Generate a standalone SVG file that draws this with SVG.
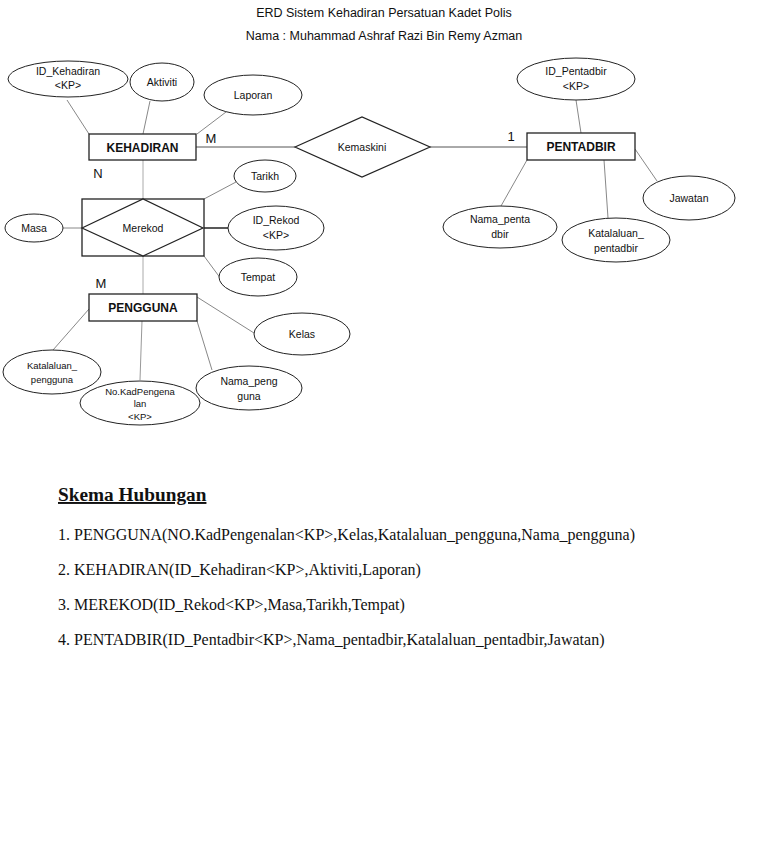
<svg xmlns="http://www.w3.org/2000/svg" width="768" height="866" viewBox="0 0 768 866">
<style>
.bg{fill:#fff}
.ent{fill:#fff;stroke:#222;stroke-width:1.3}
.att{fill:#fff;stroke:#222;stroke-width:1}
.rel{fill:#fff;stroke:#222;stroke-width:1.2}
.ln{stroke:#888;stroke-width:1;fill:none}
.t{font-family:"Liberation Sans",Arial,sans-serif;fill:#111;text-anchor:middle}
.a{font-size:10.5px}
.s{font-size:9.5px}
.e{font-size:12px;font-weight:bold}
.h{font-size:12.5px}
.c{font-size:13px}
.sc{font-family:"Liberation Serif","Times New Roman",serif;fill:#111;font-size:16px}
</style>
<rect class="bg" x="0" y="0" width="768" height="866"/>
<text class="t h" x="384" y="17">ERD Sistem Kehadiran Persatuan Kadet Polis</text>
<text class="t h" x="384" y="40">Nama : Muhammad Ashraf Razi Bin Remy Azman</text>

<g id="connectors">
<line class="ln" x1="67" y1="100" x2="89" y2="134"/>
<line class="ln" x1="150" y1="101" x2="143" y2="134"/>
<line class="ln" x1="226" y1="112" x2="197" y2="134"/>
<line class="ln" x1="196" y1="147" x2="295" y2="147" style="stroke:#555"/>
<line class="ln" x1="430" y1="147" x2="527" y2="147" style="stroke:#555"/>
<line class="ln" x1="576" y1="100" x2="581" y2="133"/>
<line class="ln" x1="527" y1="160" x2="501" y2="206"/>
<line class="ln" x1="604" y1="160" x2="608" y2="218"/>
<line class="ln" x1="635" y1="149" x2="657" y2="181"/>
<line class="ln" x1="143" y1="160" x2="143" y2="199" style="stroke:#aaa"/>
<line class="ln" x1="204" y1="199" x2="236" y2="182"/>
<line class="ln" x1="63" y1="228" x2="82" y2="228"/>
<line class="ln" x1="203" y1="228" x2="228" y2="228" style="stroke:#222;stroke-width:1.5"/>
<line class="ln" x1="204" y1="256" x2="221" y2="279"/>
<line class="ln" x1="143" y1="256" x2="143" y2="294" style="stroke:#aaa"/>
<line class="ln" x1="197" y1="297" x2="254" y2="333"/>
<line class="ln" x1="89" y1="309" x2="53" y2="350"/>
<line class="ln" x1="142" y1="321" x2="140" y2="380" style="stroke:#999"/>
<line class="ln" x1="197" y1="321" x2="212" y2="370"/>
<text class="t c" x="211" y="143">M</text>
<text class="t c" x="511" y="141">1</text>
<text class="t c" x="98" y="178">N</text>
<text class="t c" x="101" y="288">M</text>
</g>

<g id="KEHADIRAN">
<rect class="ent" x="89" y="134" width="107" height="26"/>
<text class="t e" x="142.5" y="151.5">KEHADIRAN</text>
</g>
<g id="ID_Kehadiran">
<ellipse class="att" cx="68" cy="79" rx="60" ry="18"/>
<text class="t a" x="68" y="75">ID_Kehadiran</text>
<text class="t a" x="68" y="89">&lt;KP&gt;</text>
</g>
<g id="Aktiviti">
<ellipse class="att" cx="162" cy="82" rx="32" ry="19"/>
<text class="t a" x="162" y="86">Aktiviti</text>
</g>
<g id="Laporan">
<ellipse class="att" cx="253" cy="95" rx="49" ry="20"/>
<text class="t a" x="253" y="99">Laporan</text>
</g>
<g id="Kemaskini">
<polygon class="rel" points="295,147 362,117 430,147 362,177"/>
<text class="t a" x="362" y="151">Kemaskini</text>
</g>
<g id="PENTADBIR">
<rect class="ent" x="527" y="133" width="108" height="27"/>
<text class="t e" x="581" y="151">PENTADBIR</text>
</g>
<g id="ID_Pentadbir">
<ellipse class="att" cx="576" cy="79" rx="59" ry="21"/>
<text class="t a" x="576" y="75">ID_Pentadbir</text>
<text class="t a" x="576" y="90">&lt;KP&gt;</text>
</g>
<g id="Nama_pentadbir">
<ellipse class="att" cx="500" cy="227" rx="57" ry="21"/>
<text class="t a" x="500" y="223">Nama_penta</text>
<text class="t a" x="500" y="238">dbir</text>
</g>
<g id="Katalaluan_pentadbir">
<ellipse class="att" cx="616" cy="240" rx="54" ry="22"/>
<text class="t a" x="616" y="237">Katalaluan_</text>
<text class="t a" x="616" y="252">pentadbir</text>
</g>
<g id="Jawatan">
<ellipse class="att" cx="689" cy="198" rx="46" ry="22"/>
<text class="t a" x="689" y="202">Jawatan</text>
</g>
<g id="Merekod">
<rect class="ent" x="82" y="199" width="122" height="57"/>
<polygon class="rel" points="82,228 143,199 203,228 143,256"/>
<text class="t a" x="143" y="232">Merekod</text>
</g>
<g id="Tarikh">
<ellipse class="att" cx="265" cy="176" rx="31" ry="16"/>
<text class="t a" x="265" y="180">Tarikh</text>
</g>
<g id="Masa">
<ellipse class="att" cx="34" cy="228" rx="29" ry="14"/>
<text class="t a" x="34" y="232">Masa</text>
</g>
<g id="ID_Rekod">
<ellipse class="att" cx="276" cy="228" rx="48" ry="22"/>
<text class="t a" x="276" y="224">ID_Rekod</text>
<text class="t a" x="276" y="239">&lt;KP&gt;</text>
</g>
<g id="Tempat">
<ellipse class="att" cx="258" cy="277" rx="39" ry="19"/>
<text class="t a" x="258" y="281">Tempat</text>
</g>
<g id="PENGGUNA">
<rect class="ent" x="89" y="294" width="108" height="27"/>
<text class="t e" x="143" y="312">PENGGUNA</text>
</g>
<g id="Kelas">
<ellipse class="att" cx="302" cy="334" rx="48" ry="21"/>
<text class="t a" x="302" y="338">Kelas</text>
</g>
<g id="Katalaluan_pengguna">
<ellipse class="att" cx="52" cy="372" rx="49" ry="22"/>
<text class="t s" x="52" y="369">Katalaluan_</text>
<text class="t s" x="52" y="383">pengguna</text>
</g>
<g id="No_KadPengenalan">
<ellipse class="att" cx="140" cy="403" rx="60" ry="22"/>
<text class="t s" x="140" y="395">No.KadPengena</text>
<text class="t s" x="140" y="407">lan</text>
<text class="t s" x="140" y="420">&lt;KP&gt;</text>
</g>
<g id="Nama_pengguna">
<ellipse class="att" cx="249" cy="388" rx="53" ry="22"/>
<text class="t a" x="249" y="385">Nama_peng</text>
<text class="t a" x="249" y="400">guna</text>
</g>

<g id="schema">
<text class="sc" x="58" y="501" style="font-size:19.3px;font-weight:bold;text-decoration:underline">Skema Hubungan</text>
<text class="sc" x="58" y="540">1. PENGGUNA(NO.KadPengenalan&lt;KP&gt;,Kelas,Katalaluan_pengguna,Nama_pengguna)</text>
<text class="sc" x="58" y="575">2. KEHADIRAN(ID_Kehadiran&lt;KP&gt;,Aktiviti,Laporan)</text>
<text class="sc" x="58" y="610">3. MEREKOD(ID_Rekod&lt;KP&gt;,Masa,Tarikh,Tempat)</text>
<text class="sc" x="58" y="645">4. PENTADBIR(ID_Pentadbir&lt;KP&gt;,Nama_pentadbir,Katalaluan_pentadbir,Jawatan)</text>
</g>
</svg>
